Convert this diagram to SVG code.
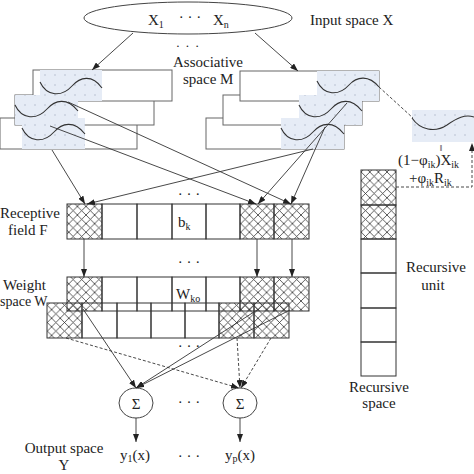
<svg xmlns="http://www.w3.org/2000/svg" width="474" height="474" viewBox="0 0 474 474">
<defs>
<pattern id="hatch" patternUnits="userSpaceOnUse" width="8.6" height="8.6">
<path d="M0 0L8.6 8.6M8.6 0L0 8.6" stroke="#333" stroke-width="0.8"/>
</pattern>
<pattern id="dots" patternUnits="userSpaceOnUse" width="10" height="10">
<rect width="10" height="10" fill="#e6ecf6"/>
<circle cx="5" cy="5" r="0.7" fill="#a9b3c4"/>
</pattern>
<marker id="ah" markerUnits="userSpaceOnUse" markerWidth="8" markerHeight="6" refX="8" refY="3" orient="auto">
<path d="M0 0L8 3L0 6z" fill="#222"/>
</marker>
</defs>
<style>
text{font-family:"Liberation Serif","Times New Roman",serif;font-size:15px;fill:#222}
.sub{font-size:10px}
.mid{text-anchor:middle}
.box{fill:#fff;stroke:#666;stroke-width:1}
.patch{fill:url(#dots)}
.wave{fill:none;stroke:#333;stroke-width:1.1}
.cell{fill:none;stroke:#333;stroke-width:1}
.hc{fill:url(#hatch);stroke:#333;stroke-width:1}
.c{stroke:#333;stroke-width:0.9;fill:none}
.arr{marker-end:url(#ah)}
.dash{stroke-dasharray:3 2}
</style>
<rect width="474" height="474" fill="#fff"/>

<g id="input-space">
<ellipse cx="188" cy="18" rx="104" ry="16" fill="#fff" stroke="#444" stroke-width="1"/>
<text x="148" y="25">X<tspan class="sub" dy="3">1</tspan></text>
<text x="190" y="22" class="mid">· · ·</text>
<text x="213" y="25">X<tspan class="sub" dy="3">n</tspan></text>
<text x="310" y="25">Input space X</text>
</g>

<g id="associative-left">
<rect class="box" x="0" y="118" width="137" height="31"/>
<rect class="box" x="15" y="95" width="139" height="30"/>
<rect class="box" x="33" y="70" width="139" height="31"/>
<rect class="patch" x="22" y="118" width="63" height="31"/>
<rect class="patch" x="15" y="95" width="63" height="30"/>
<rect class="patch" x="40" y="70" width="62" height="31"/>
<path class="wave" d="M22 128C29 143 44 143 54 132C62 123 74 120 85 134"/>
<path class="wave" d="M15 105C22 120 37 120 47 109C55 100 67 97 78 111"/>
<path class="wave" d="M40 82C47 97 62 97 72 86C80 77 92 74 102 88"/>
</g>

<g id="associative-right">
<rect class="box" x="206" y="118" width="138" height="31"/>
<rect class="box" x="223" y="95" width="139" height="30"/>
<rect class="box" x="240" y="71" width="139" height="30"/>
<rect class="patch" x="281" y="118" width="63" height="31"/>
<rect class="patch" x="299" y="95" width="63" height="30"/>
<rect class="patch" x="317" y="71" width="62" height="30"/>
<path class="wave" d="M281 128C288 143 303 143 313 132C321 123 333 120 344 134"/>
<path class="wave" d="M299 105C306 120 321 120 331 109C339 100 351 97 362 111"/>
<path class="wave" d="M317 81C324 96 339 96 349 85C357 76 369 75 379 87"/>
</g>

<g id="associative-label">
<text x="188" y="50" class="mid" style="font-size:13px;letter-spacing:1px">· · ·</text>
<text x="173" y="67">Associative</text>
<text x="183" y="84">space M</text>
</g>

<g id="recursive-patch">
<rect class="patch" x="412" y="110" width="62" height="32"/>
<path class="wave" d="M412 118C420 130 435 133 447 125C457 118 465 114 474 117"/>
<text x="441" y="151" class="mid" style="font-size:9px">‖</text>
<text x="398" y="165">(1−φ<tspan class="sub" dy="3">ik</tspan><tspan dy="-3">)X</tspan><tspan class="sub" dy="3">ik</tspan></text>
<text x="409" y="183">+φ<tspan class="sub" dy="3">ik</tspan><tspan dy="-3">R</tspan><tspan class="sub" dy="3">ik</tspan></text>
</g>

<g id="receptive-field">
<rect class="hc" x="67" y="204" width="35" height="35"/>
<rect class="cell" x="102" y="204" width="35" height="35"/>
<rect class="cell" x="137" y="204" width="35" height="35"/>
<rect class="cell" x="172" y="204" width="34" height="35"/>
<rect class="cell" x="206" y="204" width="34" height="35"/>
<rect class="hc" x="240" y="204" width="34" height="35"/>
<rect class="hc" x="274" y="204" width="35" height="35"/>
<text x="178" y="227">b<tspan class="sub" dy="3">k</tspan></text>
<text x="189" y="199" class="mid">· · ·</text>
<text x="0" y="218">Receptive</text>
<text x="8" y="235">field F</text>
</g>

<g id="weight-space">
<rect class="hc" x="47" y="303" width="35" height="35"/>
<rect class="cell" x="82" y="303" width="35" height="35"/>
<rect class="cell" x="117" y="303" width="34" height="35"/>
<rect class="cell" x="151" y="303" width="34" height="35"/>
<rect class="cell" x="185" y="303" width="34" height="35"/>
<rect class="hc" x="219" y="303" width="35" height="35"/>
<rect class="hc" x="254" y="303" width="35" height="35"/>
<rect class="hc" x="67" y="277" width="35" height="34"/>
<rect class="cell" x="102" y="277" width="35" height="34"/>
<rect class="cell" x="137" y="277" width="35" height="34"/>
<rect class="cell" x="172" y="277" width="34" height="34"/>
<rect class="cell" x="206" y="277" width="34" height="34"/>
<rect class="hc" x="240" y="277" width="34" height="34"/>
<rect class="hc" x="274" y="277" width="35" height="34"/>
<text x="176" y="299">W<tspan class="sub" dy="3">ko</tspan></text>
<text x="189" y="267" class="mid">· · ·</text>
<text x="189" y="351" class="mid">· · ·</text>
<text x="3" y="290">Weight</text>
<text x="0" y="306" style="font-size:14px">space W</text>
</g>

<g id="recursive-space">
<rect class="hc" x="361" y="170" width="35" height="35"/>
<rect class="hc" x="361" y="205" width="35" height="34"/>
<rect class="cell" x="361" y="239" width="35" height="34"/>
<rect class="cell" x="361" y="273" width="35" height="35"/>
<rect class="cell" x="361" y="308" width="35" height="34"/>
<rect class="cell" x="361" y="342" width="35" height="34"/>
<text x="436" y="272" class="mid">Recursive</text>
<text x="433" y="290" class="mid">unit</text>
<text x="379" y="392" class="mid">Recursive</text>
<text x="379" y="408" class="mid">space</text>
</g>

<g id="sum-1">
<ellipse cx="136" cy="403" rx="17" ry="15" fill="#fff" stroke="#444" stroke-width="1"/>
<text x="136" y="409" class="mid">Σ</text>
</g>
<g id="sum-p">
<ellipse cx="240" cy="403" rx="17" ry="15" fill="#fff" stroke="#444" stroke-width="1"/>
<text x="240" y="409" class="mid">Σ</text>
</g>
<text x="189" y="407" class="mid">· · ·</text>

<g id="output-space">
<text x="120" y="460">y<tspan class="sub" dy="2">1</tspan><tspan dy="-2">(x)</tspan></text>
<text x="189" y="461" class="mid">· · ·</text>
<text x="225" y="460">y<tspan class="sub" dy="2">p</tspan><tspan dy="-2">(x)</tspan></text>
<text x="64" y="453" class="mid">Output space</text>
<text x="64" y="470" class="mid">Y</text>
</g>

<g id="connectors">
<line class="c arr" x1="133" y1="33" x2="92" y2="70"/>
<line class="c arr" x1="255" y1="33" x2="298" y2="71"/>
<line class="c arr" x1="52" y1="150" x2="85" y2="204"/>
<line class="c arr" x1="313" y1="149" x2="87" y2="204"/>
<line class="c arr" x1="68" y1="102" x2="291" y2="204"/>
<line class="c arr" x1="50" y1="126" x2="256" y2="204"/>
<line class="c arr" x1="347" y1="103" x2="258" y2="204"/>
<line class="c arr" x1="325" y1="127" x2="291" y2="204"/>
<line class="c arr" x1="84" y1="239" x2="84" y2="277"/>
<line class="c arr" x1="257" y1="239" x2="257" y2="277"/>
<line class="c arr" x1="292" y1="239" x2="292" y2="277"/>
<line class="c arr" x1="83" y1="309" x2="136" y2="388"/>
<line class="c arr" x1="257" y1="310" x2="136" y2="388"/>
<line class="c arr" x1="290" y1="310" x2="136" y2="388"/>
<line class="c arr dash" x1="66" y1="338" x2="239" y2="388"/>
<line class="c arr dash" x1="237" y1="338" x2="240" y2="388"/>
<line class="c arr dash" x1="271" y1="338" x2="241" y2="388"/>
<line class="c arr" x1="136" y1="418" x2="136" y2="442"/>
<line class="c arr" x1="240" y1="418" x2="240" y2="442"/>
<line class="c dash" x1="379" y1="87" x2="413" y2="118"/>
<polyline class="c arr dash" points="396,187 472,187 472,143"/>
</g>
</svg>
